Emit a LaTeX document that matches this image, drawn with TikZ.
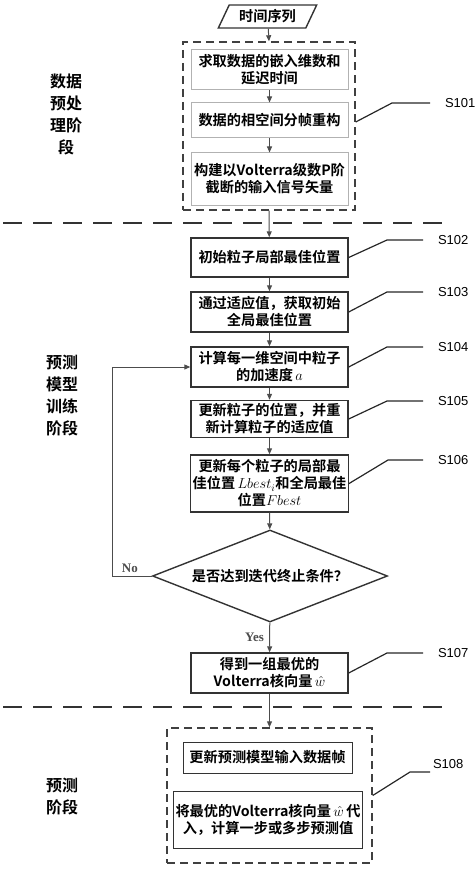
\documentclass[tikz,border=0pt]{standalone}
\usepackage{fontspec}
\usepackage{amsmath}
\setmainfont{Liberation Sans}
\newfontfamily\cjk{Noto Sans CJK SC}[BoldFont={Noto Sans CJK SC Bold}]
\newfontfamily\serifbf{Liberation Serif}
\usetikzlibrary{shapes.geometric, arrows.meta, positioning}
\tikzset{
  box/.style        = {rectangle, draw=black!80, line width=1.4pt, minimum width=157pt,
                       align=center, inner sep=2pt,
                       font=\cjk\bfseries\fontsize{14.2}{17}\selectfont},
  prebox/.style     = {box, draw=black!30, line width=1pt},
  group/.style      = {rectangle, draw=black!75, line width=1.4pt,
                       dash pattern=on 8pt off 5pt},
  decision/.style   = {diamond, aspect=2.55, draw=black!80, line width=1.4pt, inner sep=0pt,
                       minimum width=235pt, minimum height=92pt,
                       font=\cjk\bfseries\fontsize{14.2}{17}\selectfont},
  arrow/.style      = {-{Triangle[length=6pt,width=5pt]}, line width=1pt, black!70},
  leader/.style     = {line width=1.2pt, black!85},
  sepline/.style    = {line width=2.6pt, black!80, dash pattern=on 19pt off 11pt},
  steplabel/.style  = {anchor=west, inner sep=0pt, outer xsep=15pt,
                       font=\fontsize{13}{15}\selectfont},
  phase/.style      = {align=center, font=\cjk\bfseries\fontsize{16}{22}\selectfont},
  branch/.style     = {font=\serifbf\bfseries\fontsize{13}{15}\selectfont},
}
\begin{document}
\begin{tikzpicture}[x=1pt, y=-1pt]
  \useasboundingbox (0,0) rectangle (474,869);

  % input
  \node[trapezium, trapezium left angle=66, trapezium right angle=114, trapezium stretches=true,
        draw=black!80, line width=1.4pt, minimum width=99pt, minimum height=23pt,
        font=\cjk\bfseries\fontsize{14.2}{17}\selectfont] (in) at (267.5,16.5) {时间序列};

  % data preprocessing phase
  \node[group, minimum width=172pt, minimum height=168pt] (g1) at (269,126) {};
  \node[prebox, minimum height=40pt] (b1) at (269.5,70)  {求取数据的嵌入维数和\\延迟时间};
  \node[prebox, minimum height=35pt] (b2) at (269.5,120.5) {数据的相空间分帧重构};
  \node[prebox, minimum height=52pt] (b3) at (269.5,179) {构建以Volterra级数P阶\\截断的输入信号矢量};

  \node[phase] (ph1) at (66,114) {数据\\预处\\理阶\\段};

  \draw[sepline] (3,223) -- (443,223);

  % training phase
  \node[box, minimum height=39pt] (p1) at (269.5,257.5) {初始粒子局部最佳位置};
  \node[box, minimum height=40pt] (p2) at (269.5,312)   {通过适应值，获取初始\\全局最佳位置};
  \node[box, minimum height=40pt] (p3) at (269.5,367)   {计算每一维空间中粒子\\的加速度\,$a$};
  \node[box, minimum height=37pt] (p4) at (269.5,419)   {更新粒子的位置，并重\\新计算粒子的适应值};
  \node[box, minimum height=57pt] (p5) at (269.5,483.5) {更新每个粒子的局部最\\佳位置\,$Lbest_i$和全局最佳\\位置$Fbest$};
  \node[decision] (cond) at (270,576) {是否达到迭代终止条件？};
  \node[box, minimum height=40pt] (p6) at (269.5,673)   {得到一组最优的\\Volterra核向量\,$\hat{w}$};

  \node[phase] (ph2) at (62,396) {预测\\模型\\训练\\阶段};

  \draw[sepline] (3,707) -- (443,707);

  % prediction phase
  \node[group, minimum width=205pt, minimum height=135pt] (g3) at (269.5,795.5) {};
  \node[box, line width=1pt, minimum width=169pt, minimum height=31pt] (q1) at (267.5,757.5) {更新预测模型输入数据帧};
  \node[box, line width=1pt, minimum width=188pt, minimum height=57pt] (q2) at (268,819.5) {将最优的Volterra核向量\,$\hat{w}$\,代\\入，计算一步或多步预测值};

  \node[phase] (ph3) at (62,797) {预测\\阶段};

  % flow
  \draw[arrow] (in) -- (g1.north);
  \draw[arrow] (b1) -- (b2);
  \draw[arrow] (b2) -- (b3);
  \draw[arrow] (g1.south) -- (p1);
  \draw[arrow] (p1) -- (p2);
  \draw[arrow] (p2) -- (p3);
  \draw[arrow] (p3) -- (p4);
  \draw[arrow] (p4) -- (p5);
  \draw[arrow] (p5) -- (cond);
  \draw[arrow] (cond) -- (p6) node[pos=0.5, left=2pt, branch] {Yes};
  \draw[arrow] (cond.west) -- (112,576) node[pos=0.55, above, branch] {No} |- (p3.west);
  \draw[arrow] (p6) -- (g3.north);

  % step labels
  \node[steplabel] (s101) at (430,103) {S101};
  \node[steplabel] (s102) at (423,240) {S102};
  \node[steplabel] (s103) at (423,292) {S103};
  \node[steplabel] (s104) at (423,347) {S104};
  \node[steplabel] (s105) at (423,401) {S105};
  \node[steplabel] (s106) at (423,460) {S106};
  \node[steplabel] (s107) at (423,653) {S107};
  \node[steplabel, anchor=south west, outer xsep=0pt, inner sep=3pt] (s108) at (430,772) {S108};

  \draw[leader] ([yshift=4pt]g1.east) -- (392,103) -- (s101.west);
  \draw[leader] (p1.east) -- (387,240) -- (s102.west);
  \draw[leader] (p2.east) -- (387,292) -- (s103.west);
  \draw[leader] (p3.east) -- (387,347) -- (s104.west);
  \draw[leader] (p4.east) -- (387,401) -- (s105.west);
  \draw[leader] (p5.east) -- (388,460) -- (s106.west);
  \draw[leader] (p6.east) -- (387,653) -- (s107.west);
  \draw[leader] (g3.east) -- (410,772) -- (s108.south west);

\end{tikzpicture}
\end{document}
